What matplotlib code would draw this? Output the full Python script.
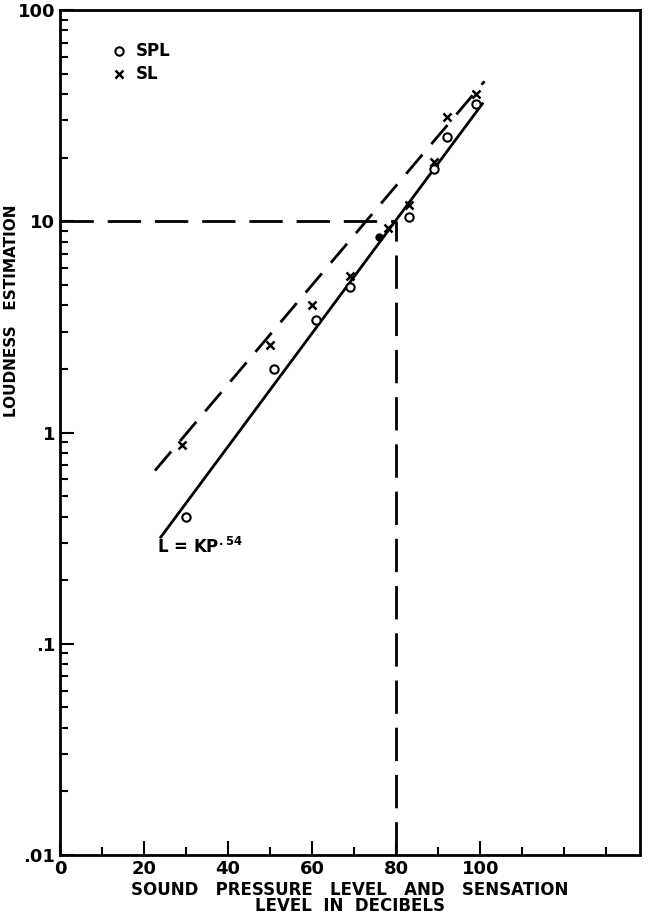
import matplotlib.pyplot as plt
import numpy as np

# data
spl_x = [30, 51, 61, 69, 83, 89, 92, 99]
spl_y = [0.40, 2.0, 3.4, 4.9, 10.5, 17.7, 25, 36]
spl_dot_x = [76]
spl_dot_y = [8.4]
sl_x = [29, 50, 60, 69, 78, 83, 89, 92, 99]
sl_y = [0.87, 2.6, 4.0, 5.5, 9.3, 12, 19, 31, 40]
fit_spl_x = [24, 100.5]
fit_spl_y = [0.32, 36]
fit_sl_x = [22.6, 101]
fit_sl_y = [0.66, 46]
xticks = [0, 20, 40, 60, 80, 100]
yticks = [0.01, 0.1, 1, 10, 100]
ytick_labels = ['.01', '.1', '1', '10', '100']

plt.rcParams['font.family'] = 'DejaVu Sans'
plt.rcParams['font.weight'] = 'bold'
plt.rcParams['axes.labelweight'] = 'bold'

fig = plt.figure(figsize=(6.5, 9.15), dpi=100)
ax = fig.add_axes([60/650, 60/915, 580/650, 845/915])

ax.plot(fit_spl_x, fit_spl_y, 'k-', lw=2)
ax.plot(fit_sl_x, fit_sl_y, 'k', lw=2, dashes=(9, 5))
ax.plot([0, 80], [10, 10], 'k', lw=2, dashes=(12, 5))
ax.plot([80, 80], [0.01, 10], 'k', lw=2, dashes=(12, 5))
ax.plot(spl_x, spl_y, 'o', mfc='white', mec='k', mew=1.5, ms=6, ls='none')
ax.plot(spl_dot_x, spl_dot_y, 'o', color='k', ms=5, ls='none')
ax.plot(sl_x, sl_y, 'x', color='k', mew=1.8, ms=6, ls='none')

ax.set_yscale('log')
ax.set_xlim(0, 138)
ax.set_ylim(0.01, 100)
ax.set_xticks(np.arange(0, 140, 10), minor=True)
ax.set_xticks(xticks)
ax.set_xticklabels([str(t) for t in xticks], fontsize=13)
ax.set_yticks(yticks)
ax.set_yticklabels(ytick_labels, fontsize=13)
ax.tick_params(which='both', direction='in', width=1.5)
ax.tick_params(which='major', length=10)
ax.tick_params(which='minor', length=6)
for s in ax.spines.values():
    s.set_linewidth(2)

ax.set_xlabel('SOUND   PRESSURE   LEVEL   AND   SENSATION\nLEVEL  IN  DECIBELS',
              fontsize=12, labelpad=2, linespacing=0.9)
fig.text(12/650, 0.66, 'LOUDNESS   ESTIMATION', rotation=90, fontsize=11,
         ha='center', va='center', fontweight='bold')

ax.text(23, 0.27, r'L = KP$^{.54}$', fontsize=12)
ax.plot([14], [64], 'o', mfc='white', mec='k', mew=1.5, ms=6)
ax.plot([14], [50], 'x', color='k', mew=1.8, ms=6)
ax.text(18, 64, 'SPL', fontsize=12, va='center')
ax.text(18, 50, 'SL', fontsize=12, va='center')

fig.savefig('out.png', dpi=100)
